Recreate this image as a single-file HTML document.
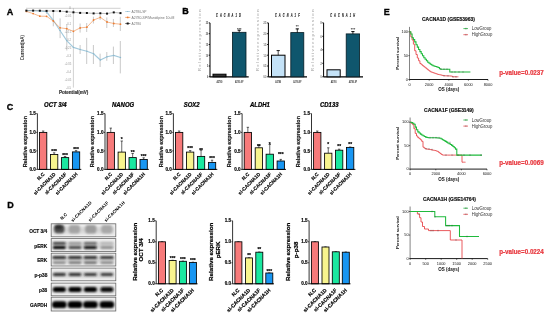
<!DOCTYPE html>
<html><head><meta charset="utf-8"><style>
html,body{margin:0;padding:0;background:#fff;width:550px;height:317px;overflow:hidden}
svg{display:block;will-change:transform}
text{font-family:"Liberation Sans", sans-serif}
</style></head><body>
<svg width="550" height="317" viewBox="0 0 550 317">
<rect width="550" height="317" fill="#fff"/>
<text x="0" y="0" transform="translate(6.85 15.15) scale(0.92 1)" font-size="9.8" text-anchor="start" font-weight="bold" font-style="normal" fill="#000" stroke="#000" stroke-width="0.35">A</text>
<text x="0" y="0" transform="translate(182.35 13.65) scale(0.92 1)" font-size="9.8" text-anchor="start" font-weight="bold" font-style="normal" fill="#000" stroke="#000" stroke-width="0.35">B</text>
<text x="0" y="0" transform="translate(6.75 109.6) scale(0.92 1)" font-size="9.8" text-anchor="start" font-weight="bold" font-style="normal" fill="#000" stroke="#000" stroke-width="0.35">C</text>
<text x="0" y="0" transform="translate(7.15 207.95) scale(0.92 1)" font-size="9.8" text-anchor="start" font-weight="bold" font-style="normal" fill="#000" stroke="#000" stroke-width="0.35">D</text>
<text x="0" y="0" transform="translate(383.85 14.95) scale(0.92 1)" font-size="9.8" text-anchor="start" font-weight="bold" font-style="normal" fill="#000" stroke="#000" stroke-width="0.35">E</text>
<line x1="26" y1="8.3" x2="120.5" y2="8.3" stroke="#888" stroke-width="0.4" />
<line x1="73.4" y1="8.2" x2="73.4" y2="87.6" stroke="#999" stroke-width="0.45" />
<text x="71.2" y="16.78" font-size="2.8" text-anchor="end" font-weight="normal" font-style="normal" fill="#999" >-0.05</text>
<text x="71.2" y="24.76" font-size="2.8" text-anchor="end" font-weight="normal" font-style="normal" fill="#999" >-0.1</text>
<text x="71.2" y="32.74" font-size="2.8" text-anchor="end" font-weight="normal" font-style="normal" fill="#999" >-0.15</text>
<text x="71.2" y="40.72" font-size="2.8" text-anchor="end" font-weight="normal" font-style="normal" fill="#999" >-0.2</text>
<text x="71.2" y="48.7" font-size="2.8" text-anchor="end" font-weight="normal" font-style="normal" fill="#999" >-0.25</text>
<text x="71.2" y="56.68" font-size="2.8" text-anchor="end" font-weight="normal" font-style="normal" fill="#999" >-0.3</text>
<text x="71.2" y="64.66" font-size="2.8" text-anchor="end" font-weight="normal" font-style="normal" fill="#999" >-0.35</text>
<text x="71.2" y="72.64" font-size="2.8" text-anchor="end" font-weight="normal" font-style="normal" fill="#999" >-0.4</text>
<text x="71.2" y="80.62" font-size="2.8" text-anchor="end" font-weight="normal" font-style="normal" fill="#999" >-0.45</text>
<text x="71.2" y="88.60000000000001" font-size="2.8" text-anchor="end" font-weight="normal" font-style="normal" fill="#999" >-0.5</text>
<text x="70.0" y="9.3" font-size="2.8" text-anchor="middle" font-weight="normal" font-style="normal" fill="#888" >0</text>
<line x1="53.3" y1="12" x2="53.3" y2="26.3" stroke="#9a9a9a" stroke-width="0.55" />
<line x1="60.1" y1="18.4" x2="60.1" y2="38.1" stroke="#9a9a9a" stroke-width="0.55" />
<line x1="66.8" y1="24.5" x2="66.8" y2="50.5" stroke="#9a9a9a" stroke-width="0.55" />
<line x1="80.1" y1="23.5" x2="80.1" y2="32.6" stroke="#9a9a9a" stroke-width="0.55" />
<line x1="80.1" y1="45" x2="80.1" y2="54" stroke="#9a9a9a" stroke-width="0.55" />
<line x1="86.7" y1="23" x2="86.7" y2="32" stroke="#9a9a9a" stroke-width="0.55" />
<line x1="86.7" y1="37.9" x2="86.7" y2="64" stroke="#9a9a9a" stroke-width="0.55" />
<line x1="93.4" y1="16.7" x2="93.4" y2="23.5" stroke="#9a9a9a" stroke-width="0.55" />
<line x1="93.4" y1="45" x2="93.4" y2="64" stroke="#9a9a9a" stroke-width="0.55" />
<line x1="100.1" y1="15" x2="100.1" y2="20" stroke="#9a9a9a" stroke-width="0.55" />
<line x1="100.1" y1="53.7" x2="100.1" y2="67" stroke="#9a9a9a" stroke-width="0.55" />
<line x1="106.8" y1="17.4" x2="106.8" y2="28" stroke="#9a9a9a" stroke-width="0.55" />
<line x1="106.8" y1="52" x2="106.8" y2="60.8" stroke="#9a9a9a" stroke-width="0.55" />
<line x1="113.4" y1="19" x2="113.4" y2="27" stroke="#9a9a9a" stroke-width="0.55" />
<line x1="113.4" y1="46.6" x2="113.4" y2="64" stroke="#9a9a9a" stroke-width="0.55" />
<line x1="120.3" y1="16.7" x2="120.3" y2="31" stroke="#9a9a9a" stroke-width="0.55" />
<line x1="120.3" y1="41" x2="120.3" y2="73.4" stroke="#9a9a9a" stroke-width="0.55" />
<line x1="46.7" y1="10" x2="46.7" y2="14" stroke="#9a9a9a" stroke-width="0.55" />
<polyline points="26.40,10.60 33.12,10.80 39.84,11.00 46.56,11.80 53.28,20.30 60.00,30.50 66.72,40.60 73.44,47.40 80.16,49.50 86.88,51.30 93.60,53.80 100.32,60.00 107.04,56.80 113.76,55.40 120.48,57.50" fill="none" stroke="#a3c9dc" stroke-width="1.15" />
<circle cx="26.4" cy="10.6" r="0.7" fill="#8bb8cc"/>
<circle cx="33.12" cy="10.8" r="0.7" fill="#8bb8cc"/>
<circle cx="39.839999999999996" cy="11.0" r="0.7" fill="#8bb8cc"/>
<circle cx="46.56" cy="11.8" r="0.7" fill="#8bb8cc"/>
<circle cx="53.28" cy="20.3" r="0.7" fill="#8bb8cc"/>
<circle cx="60.0" cy="30.5" r="0.7" fill="#8bb8cc"/>
<circle cx="66.72" cy="40.6" r="0.7" fill="#8bb8cc"/>
<circle cx="73.44" cy="47.4" r="0.7" fill="#8bb8cc"/>
<circle cx="80.16" cy="49.5" r="0.7" fill="#8bb8cc"/>
<circle cx="86.88" cy="51.3" r="0.7" fill="#8bb8cc"/>
<circle cx="93.6" cy="53.8" r="0.7" fill="#8bb8cc"/>
<circle cx="100.32" cy="60.0" r="0.7" fill="#8bb8cc"/>
<circle cx="107.03999999999999" cy="56.8" r="0.7" fill="#8bb8cc"/>
<circle cx="113.75999999999999" cy="55.4" r="0.7" fill="#8bb8cc"/>
<circle cx="120.47999999999999" cy="57.5" r="0.7" fill="#8bb8cc"/>
<polyline points="26.40,11.40 33.12,13.60 39.84,16.20 46.56,16.30 53.28,21.00 60.00,27.80 66.72,28.70 73.44,31.30 80.16,27.90 86.88,27.20 93.60,20.00 100.32,17.40 107.04,22.00 113.76,23.50 120.48,24.20" fill="none" stroke="#ef8a45" stroke-width="0.6" />
<circle cx="26.4" cy="11.4" r="0.9" fill="#ee7d31"/>
<circle cx="33.12" cy="13.6" r="0.9" fill="#ee7d31"/>
<circle cx="39.839999999999996" cy="16.2" r="0.9" fill="#ee7d31"/>
<circle cx="46.56" cy="16.3" r="0.9" fill="#ee7d31"/>
<circle cx="53.28" cy="21.0" r="0.9" fill="#ee7d31"/>
<circle cx="60.0" cy="27.8" r="0.9" fill="#ee7d31"/>
<circle cx="66.72" cy="28.7" r="0.9" fill="#ee7d31"/>
<circle cx="73.44" cy="31.3" r="0.9" fill="#ee7d31"/>
<circle cx="80.16" cy="27.9" r="0.9" fill="#ee7d31"/>
<circle cx="86.88" cy="27.2" r="0.9" fill="#ee7d31"/>
<circle cx="93.6" cy="20.0" r="0.9" fill="#ee7d31"/>
<circle cx="100.32" cy="17.4" r="0.9" fill="#ee7d31"/>
<circle cx="107.03999999999999" cy="22.0" r="0.9" fill="#ee7d31"/>
<circle cx="113.75999999999999" cy="23.5" r="0.9" fill="#ee7d31"/>
<circle cx="120.47999999999999" cy="24.2" r="0.9" fill="#ee7d31"/>
<polyline points="26.40,10.60 33.12,10.60 39.84,10.70 46.56,10.90 53.28,11.00 60.00,11.10 66.72,11.70 73.44,12.30 80.16,12.90 86.88,13.00 93.60,13.40 100.32,13.30 107.04,13.60 113.76,12.40 120.48,13.10" fill="none" stroke="#777" stroke-width="0.5" />
<rect x="25.4" y="9.6" width="2.0" height="2.0" fill="#111"/>
<rect x="32.12" y="9.6" width="2.0" height="2.0" fill="#111"/>
<rect x="38.839999999999996" y="9.7" width="2.0" height="2.0" fill="#111"/>
<rect x="45.56" y="9.9" width="2.0" height="2.0" fill="#111"/>
<rect x="52.28" y="10.0" width="2.0" height="2.0" fill="#111"/>
<rect x="59.0" y="10.1" width="2.0" height="2.0" fill="#111"/>
<rect x="65.72" y="10.7" width="2.0" height="2.0" fill="#111"/>
<rect x="72.44" y="11.3" width="2.0" height="2.0" fill="#111"/>
<rect x="79.16" y="11.9" width="2.0" height="2.0" fill="#111"/>
<rect x="85.88" y="12.0" width="2.0" height="2.0" fill="#111"/>
<rect x="92.6" y="12.4" width="2.0" height="2.0" fill="#111"/>
<rect x="99.32" y="12.3" width="2.0" height="2.0" fill="#111"/>
<rect x="106.03999999999999" y="12.6" width="2.0" height="2.0" fill="#111"/>
<rect x="112.75999999999999" y="11.4" width="2.0" height="2.0" fill="#111"/>
<rect x="119.47999999999999" y="12.1" width="2.0" height="2.0" fill="#111"/>
<line x1="125.2" y1="11.5" x2="130.3" y2="11.5" stroke="#9fc6d8" stroke-width="0.7" />
<circle cx="127.7" cy="11.5" r="0.6" fill="#8bb8cc"/>
<line x1="125.2" y1="17.4" x2="130.3" y2="17.4" stroke="#ef8a45" stroke-width="0.7" />
<circle cx="127.7" cy="17.4" r="0.9" fill="#ee7d31"/>
<line x1="125.2" y1="23.5" x2="130.3" y2="23.5" stroke="#222" stroke-width="0.6" />
<rect x="126.7" y="22.5" width="2" height="2" fill="#111"/>
<text x="131.5" y="12.7" font-size="3.3" text-anchor="start" font-weight="normal" font-style="normal" fill="#777" >A2780-SP</text>
<text x="131.5" y="18.6" font-size="3.45" text-anchor="start" font-weight="normal" font-style="normal" fill="#777" >A2780-SP/Manidipine 10uM</text>
<text x="131.5" y="24.7" font-size="3.3" text-anchor="start" font-weight="normal" font-style="normal" fill="#777" >A2780</text>
<text x="23.900000000000002" y="47.6" font-size="4.5" text-anchor="middle" font-weight="bold" font-style="normal" fill="#333" transform="rotate(-90 23.900000000000002 47.6)" >Current(nA)</text>
<text x="73.65" y="94.0" font-size="4.58" text-anchor="middle" font-weight="bold" font-style="normal" fill="#333"  stroke="#333" stroke-width="0.160">Potential(mV)</text>
<text x="0" y="0" transform="translate(200.8 40.2) rotate(-90) scale(1 1)" font-size="2.6" text-anchor="middle" font-weight="bold" font-style="normal" fill="#bbb" textLength="62" lengthAdjust="spacingAndGlyphs">R e l a t i v e   e x p r e s s i o n</text>
<line x1="210.0" y1="22.9" x2="210.0" y2="76.9" stroke="#000" stroke-width="1.0" />
<line x1="208.7" y1="22.9" x2="210.0" y2="22.9" stroke="#000" stroke-width="0.9" />
<text x="0" y="0" transform="translate(208.0 24.299999999999997) scale(0.5 1)" font-size="4.0" text-anchor="end" font-weight="bold" font-style="normal" fill="#444" >25</text>
<line x1="208.7" y1="33.7" x2="210.0" y2="33.7" stroke="#000" stroke-width="0.9" />
<text x="0" y="0" transform="translate(208.0 35.1) scale(0.5 1)" font-size="4.0" text-anchor="end" font-weight="bold" font-style="normal" fill="#444" >20</text>
<line x1="208.7" y1="44.5" x2="210.0" y2="44.5" stroke="#000" stroke-width="0.9" />
<text x="0" y="0" transform="translate(208.0 45.9) scale(0.5 1)" font-size="4.0" text-anchor="end" font-weight="bold" font-style="normal" fill="#444" >15</text>
<line x1="208.7" y1="55.2" x2="210.0" y2="55.2" stroke="#000" stroke-width="0.9" />
<text x="0" y="0" transform="translate(208.0 56.6) scale(0.5 1)" font-size="4.0" text-anchor="end" font-weight="bold" font-style="normal" fill="#444" >10</text>
<line x1="208.7" y1="66.0" x2="210.0" y2="66.0" stroke="#000" stroke-width="0.9" />
<text x="0" y="0" transform="translate(208.0 67.4) scale(0.5 1)" font-size="4.0" text-anchor="end" font-weight="bold" font-style="normal" fill="#444" >5</text>
<line x1="208.7" y1="76.8" x2="210.0" y2="76.8" stroke="#000" stroke-width="0.9" />
<text x="0" y="0" transform="translate(208.0 78.2) scale(0.5 1)" font-size="4.0" text-anchor="end" font-weight="bold" font-style="normal" fill="#444" >0</text>
<line x1="210.0" y1="76.8" x2="248.7" y2="76.8" stroke="#000" stroke-width="1.2" />
<text x="0" y="0" transform="translate(216.0 17.3) scale(0.42 1)" font-size="6.0" text-anchor="start" font-weight="bold" font-style="italic" fill="#222" textLength="59" lengthAdjust="spacing" stroke="#222" stroke-width="0.210">CACNA1D</text>
<rect x="213.0" y="74.2" width="13.0" height="2.5999999999999943" fill="#333" stroke="#000" stroke-width="1.0" />
<rect x="232.4" y="32.3" width="13.599999999999994" height="44.5" fill="#0f566d" stroke="#061c24" stroke-width="0.8" />
<line x1="239.2" y1="32.3" x2="239.2" y2="30.2" stroke="#000" stroke-width="0.8" />
<line x1="237.6" y1="30.2" x2="240.79999999999998" y2="30.2" stroke="#000" stroke-width="1.0" />
<text x="239.2" y="30.6" font-size="3.8" text-anchor="middle" font-weight="bold" font-style="normal" fill="#333" >***</text>
<text x="0" y="0" transform="translate(219.5 82.6) scale(0.55 1)" font-size="3.6" text-anchor="middle" font-weight="bold" font-style="normal" fill="#333" >A2780</text>
<text x="0" y="0" transform="translate(239.2 82.6) scale(0.5 1)" font-size="3.6" text-anchor="middle" font-weight="bold" font-style="normal" fill="#333" >A2780-SP</text>
<text x="0" y="0" transform="translate(259.2 40.2) rotate(-90) scale(1 1)" font-size="2.6" text-anchor="middle" font-weight="bold" font-style="normal" fill="#bbb" textLength="62" lengthAdjust="spacingAndGlyphs">R e l a t i v e   e x p r e s s i o n</text>
<line x1="268.4" y1="22.9" x2="268.4" y2="76.9" stroke="#000" stroke-width="1.0" />
<line x1="267.09999999999997" y1="22.9" x2="268.4" y2="22.9" stroke="#000" stroke-width="0.9" />
<text x="0" y="0" transform="translate(266.4 24.299999999999997) scale(0.5 1)" font-size="4.0" text-anchor="end" font-weight="bold" font-style="normal" fill="#444" >2.5</text>
<line x1="267.09999999999997" y1="33.7" x2="268.4" y2="33.7" stroke="#000" stroke-width="0.9" />
<text x="0" y="0" transform="translate(266.4 35.1) scale(0.5 1)" font-size="4.0" text-anchor="end" font-weight="bold" font-style="normal" fill="#444" >2.0</text>
<line x1="267.09999999999997" y1="44.5" x2="268.4" y2="44.5" stroke="#000" stroke-width="0.9" />
<text x="0" y="0" transform="translate(266.4 45.9) scale(0.5 1)" font-size="4.0" text-anchor="end" font-weight="bold" font-style="normal" fill="#444" >1.5</text>
<line x1="267.09999999999997" y1="55.2" x2="268.4" y2="55.2" stroke="#000" stroke-width="0.9" />
<text x="0" y="0" transform="translate(266.4 56.6) scale(0.5 1)" font-size="4.0" text-anchor="end" font-weight="bold" font-style="normal" fill="#444" >1.0</text>
<line x1="267.09999999999997" y1="66.0" x2="268.4" y2="66.0" stroke="#000" stroke-width="0.9" />
<text x="0" y="0" transform="translate(266.4 67.4) scale(0.5 1)" font-size="4.0" text-anchor="end" font-weight="bold" font-style="normal" fill="#444" >0.5</text>
<line x1="267.09999999999997" y1="76.8" x2="268.4" y2="76.8" stroke="#000" stroke-width="0.9" />
<text x="0" y="0" transform="translate(266.4 78.2) scale(0.5 1)" font-size="4.0" text-anchor="end" font-weight="bold" font-style="normal" fill="#444" >0.0</text>
<line x1="268.4" y1="76.8" x2="307.0" y2="76.8" stroke="#000" stroke-width="1.2" />
<text x="0" y="0" transform="translate(274.9 17.3) scale(0.42 1)" font-size="6.0" text-anchor="start" font-weight="bold" font-style="italic" fill="#222" textLength="59" lengthAdjust="spacing" stroke="#222" stroke-width="0.210">CACNA1F</text>
<rect x="271.5" y="55.2" width="13.5" height="21.599999999999994" fill="#c4e2f7" stroke="#000" stroke-width="1.0" />
<rect x="290.8" y="32.6" width="13.0" height="44.199999999999996" fill="#0f566d" stroke="#061c24" stroke-width="0.8" />
<line x1="297.3" y1="32.6" x2="297.3" y2="28.9" stroke="#000" stroke-width="0.8" />
<line x1="295.7" y1="28.9" x2="298.90000000000003" y2="28.9" stroke="#000" stroke-width="1.0" />
<text x="297.3" y="27.8" font-size="3.8" text-anchor="middle" font-weight="bold" font-style="normal" fill="#333" >**</text>
<text x="0" y="0" transform="translate(278.25 82.6) scale(0.55 1)" font-size="3.6" text-anchor="middle" font-weight="bold" font-style="normal" fill="#333" >A2780</text>
<text x="0" y="0" transform="translate(297.3 82.6) scale(0.5 1)" font-size="3.6" text-anchor="middle" font-weight="bold" font-style="normal" fill="#333" >A2780-SP</text>
<text x="0" y="0" transform="translate(314.40000000000003 40.2) rotate(-90) scale(1 1)" font-size="2.6" text-anchor="middle" font-weight="bold" font-style="normal" fill="#bbb" textLength="62" lengthAdjust="spacingAndGlyphs">R e l a t i v e   e x p r e s s i o n</text>
<line x1="323.6" y1="22.9" x2="323.6" y2="76.9" stroke="#000" stroke-width="1.0" />
<line x1="322.3" y1="22.8" x2="323.6" y2="22.8" stroke="#000" stroke-width="0.9" />
<text x="0" y="0" transform="translate(321.6 24.2) scale(0.5 1)" font-size="4.0" text-anchor="end" font-weight="bold" font-style="normal" fill="#444" >8</text>
<line x1="322.3" y1="36.3" x2="323.6" y2="36.3" stroke="#000" stroke-width="0.9" />
<text x="0" y="0" transform="translate(321.6 37.699999999999996) scale(0.5 1)" font-size="4.0" text-anchor="end" font-weight="bold" font-style="normal" fill="#444" >6</text>
<line x1="322.3" y1="49.8" x2="323.6" y2="49.8" stroke="#000" stroke-width="0.9" />
<text x="0" y="0" transform="translate(321.6 51.199999999999996) scale(0.5 1)" font-size="4.0" text-anchor="end" font-weight="bold" font-style="normal" fill="#444" >4</text>
<line x1="322.3" y1="63.3" x2="323.6" y2="63.3" stroke="#000" stroke-width="0.9" />
<text x="0" y="0" transform="translate(321.6 64.7) scale(0.5 1)" font-size="4.0" text-anchor="end" font-weight="bold" font-style="normal" fill="#444" >2</text>
<line x1="322.3" y1="76.8" x2="323.6" y2="76.8" stroke="#000" stroke-width="0.9" />
<text x="0" y="0" transform="translate(321.6 78.2) scale(0.5 1)" font-size="4.0" text-anchor="end" font-weight="bold" font-style="normal" fill="#444" >0</text>
<line x1="323.6" y1="76.8" x2="363.0" y2="76.8" stroke="#000" stroke-width="1.2" />
<text x="0" y="0" transform="translate(330.2 17.3) scale(0.42 1)" font-size="6.0" text-anchor="start" font-weight="bold" font-style="italic" fill="#222" textLength="59" lengthAdjust="spacing" stroke="#222" stroke-width="0.210">CACNA1H</text>
<rect x="327.0" y="69.8" width="13.199999999999989" height="7.0" fill="#c4e2f7" stroke="#000" stroke-width="1.0" />
<rect x="346.2" y="33.9" width="13.400000000000034" height="42.9" fill="#0f566d" stroke="#061c24" stroke-width="0.8" />
<line x1="352.9" y1="33.9" x2="352.9" y2="31.6" stroke="#000" stroke-width="0.8" />
<line x1="351.29999999999995" y1="31.6" x2="354.5" y2="31.6" stroke="#000" stroke-width="1.0" />
<text x="352.9" y="31.4" font-size="3.8" text-anchor="middle" font-weight="bold" font-style="normal" fill="#333" >***</text>
<text x="0" y="0" transform="translate(333.6 82.6) scale(0.55 1)" font-size="3.6" text-anchor="middle" font-weight="bold" font-style="normal" fill="#333" >A2780</text>
<text x="0" y="0" transform="translate(352.9 82.6) scale(0.5 1)" font-size="3.6" text-anchor="middle" font-weight="bold" font-style="normal" fill="#333" >A2780-SP</text>
<line x1="278.2" y1="55.2" x2="278.2" y2="50.6" stroke="#000" stroke-width="0.7" />
<line x1="276.6" y1="50.6" x2="279.8" y2="50.6" stroke="#000" stroke-width="0.9" />
<line x1="37.4" y1="113.6" x2="37.4" y2="169.4" stroke="#000" stroke-width="0.8" />
<line x1="36.199999999999996" y1="113.6" x2="37.4" y2="113.6" stroke="#000" stroke-width="0.7" />
<text x="35.9" y="115.25" font-size="4.6" text-anchor="end" font-weight="bold" font-style="normal" fill="#000"  stroke="#000" stroke-width="0.161">1.5</text>
<line x1="36.199999999999996" y1="132.4" x2="37.4" y2="132.4" stroke="#000" stroke-width="0.7" />
<text x="35.9" y="134.05" font-size="4.6" text-anchor="end" font-weight="bold" font-style="normal" fill="#000"  stroke="#000" stroke-width="0.161">1.0</text>
<line x1="36.199999999999996" y1="150.9" x2="37.4" y2="150.9" stroke="#000" stroke-width="0.7" />
<text x="35.9" y="152.55" font-size="4.6" text-anchor="end" font-weight="bold" font-style="normal" fill="#000"  stroke="#000" stroke-width="0.161">0.5</text>
<line x1="36.199999999999996" y1="169.4" x2="37.4" y2="169.4" stroke="#000" stroke-width="0.7" />
<text x="35.9" y="171.05" font-size="4.6" text-anchor="end" font-weight="bold" font-style="normal" fill="#000"  stroke="#000" stroke-width="0.161">0.0</text>
<line x1="43.15" y1="132.4" x2="43.15" y2="131.0" stroke="#000" stroke-width="0.6" />
<line x1="41.949999999999996" y1="131.0" x2="44.35" y2="131.0" stroke="#000" stroke-width="0.6" />
<rect x="39.5" y="132.4" width="7.3" height="37.0" fill="#f77a7a" stroke="#000" stroke-width="0.85" />
<line x1="54.15" y1="154.5" x2="54.15" y2="152.8" stroke="#000" stroke-width="0.6" />
<line x1="52.949999999999996" y1="152.8" x2="55.35" y2="152.8" stroke="#000" stroke-width="0.6" />
<rect x="50.5" y="154.5" width="7.3" height="14.900000000000006" fill="#f8f48e" stroke="#000" stroke-width="0.85" />
<text x="54.15" y="153.2" font-size="4.8" text-anchor="middle" font-weight="bold" font-style="normal" fill="#000"  stroke="#000" stroke-width="0.168">***</text>
<line x1="65.05" y1="157.6" x2="65.05" y2="156.5" stroke="#000" stroke-width="0.6" />
<line x1="63.849999999999994" y1="156.5" x2="66.25" y2="156.5" stroke="#000" stroke-width="0.6" />
<rect x="61.4" y="157.6" width="7.3" height="11.800000000000011" fill="#1ae8a0" stroke="#000" stroke-width="0.85" />
<text x="65.05" y="156.7" font-size="4.8" text-anchor="middle" font-weight="bold" font-style="normal" fill="#000"  stroke="#000" stroke-width="0.168">***</text>
<line x1="76.05000000000001" y1="151.9" x2="76.05000000000001" y2="150.6" stroke="#000" stroke-width="0.6" />
<line x1="74.85000000000001" y1="150.6" x2="77.25000000000001" y2="150.6" stroke="#000" stroke-width="0.6" />
<rect x="72.4" y="151.9" width="7.3" height="17.5" fill="#1896f2" stroke="#000" stroke-width="0.85" />
<text x="76.05000000000001" y="150.89999999999998" font-size="4.8" text-anchor="middle" font-weight="bold" font-style="normal" fill="#000"  stroke="#000" stroke-width="0.168">***</text>
<line x1="37.4" y1="169.4" x2="81.3" y2="169.4" stroke="#000" stroke-width="0.9" />
<text x="0" y="0" transform="translate(44.0 107.2) scale(0.92 1)" font-size="6.5" text-anchor="start" font-weight="bold" font-style="italic" fill="#000"  stroke="#000" stroke-width="0.228">OCT 3/4</text>
<text x="27.2" y="141.6" font-size="5.6" text-anchor="middle" font-weight="bold" font-style="normal" fill="#222" transform="rotate(-90 27.2 141.6)" textLength="51.2" lengthAdjust="spacingAndGlyphs" stroke="#222" stroke-width="0.196">Relative expression</text>
<text x="44.949999999999996" y="174.6" font-size="4.8" text-anchor="end" font-weight="bold" font-style="normal" fill="#000" transform="rotate(-45 44.949999999999996 174.6)"  stroke="#000" stroke-width="0.168">N.C</text>
<text x="55.949999999999996" y="174.6" font-size="4.8" text-anchor="end" font-weight="bold" font-style="normal" fill="#000" transform="rotate(-45 55.949999999999996 174.6)"  stroke="#000" stroke-width="0.168">si-CACNA1D</text>
<text x="66.85" y="174.6" font-size="4.8" text-anchor="end" font-weight="bold" font-style="normal" fill="#000" transform="rotate(-45 66.85 174.6)"  stroke="#000" stroke-width="0.168">si-CACNA1F</text>
<text x="77.85000000000001" y="174.6" font-size="4.8" text-anchor="end" font-weight="bold" font-style="normal" fill="#000" transform="rotate(-45 77.85000000000001 174.6)"  stroke="#000" stroke-width="0.168">si-CACNA1H</text>
<line x1="105.0" y1="113.6" x2="105.0" y2="169.4" stroke="#000" stroke-width="0.8" />
<line x1="103.8" y1="113.6" x2="105.0" y2="113.6" stroke="#000" stroke-width="0.7" />
<text x="103.5" y="115.25" font-size="4.6" text-anchor="end" font-weight="bold" font-style="normal" fill="#000"  stroke="#000" stroke-width="0.161">1.5</text>
<line x1="103.8" y1="132.4" x2="105.0" y2="132.4" stroke="#000" stroke-width="0.7" />
<text x="103.5" y="134.05" font-size="4.6" text-anchor="end" font-weight="bold" font-style="normal" fill="#000"  stroke="#000" stroke-width="0.161">1.0</text>
<line x1="103.8" y1="150.9" x2="105.0" y2="150.9" stroke="#000" stroke-width="0.7" />
<text x="103.5" y="152.55" font-size="4.6" text-anchor="end" font-weight="bold" font-style="normal" fill="#000"  stroke="#000" stroke-width="0.161">0.5</text>
<line x1="103.8" y1="169.4" x2="105.0" y2="169.4" stroke="#000" stroke-width="0.7" />
<text x="103.5" y="171.05" font-size="4.6" text-anchor="end" font-weight="bold" font-style="normal" fill="#000"  stroke="#000" stroke-width="0.161">0.0</text>
<line x1="110.75" y1="132.4" x2="110.75" y2="128.1" stroke="#000" stroke-width="0.6" />
<line x1="109.55" y1="128.1" x2="111.95" y2="128.1" stroke="#000" stroke-width="0.6" />
<rect x="107.1" y="132.4" width="7.3" height="37.0" fill="#f77a7a" stroke="#000" stroke-width="0.85" />
<line x1="121.75" y1="152.1" x2="121.75" y2="141.0" stroke="#000" stroke-width="0.6" />
<line x1="120.55" y1="141.0" x2="122.95" y2="141.0" stroke="#000" stroke-width="0.6" />
<rect x="118.1" y="152.1" width="7.3" height="17.30000000000001" fill="#f8f48e" stroke="#000" stroke-width="0.85" />
<text x="121.75" y="141.0" font-size="4.8" text-anchor="middle" font-weight="bold" font-style="normal" fill="#000"  stroke="#000" stroke-width="0.168">*</text>
<line x1="132.65" y1="157.6" x2="132.65" y2="153.5" stroke="#000" stroke-width="0.6" />
<line x1="131.45000000000002" y1="153.5" x2="133.85" y2="153.5" stroke="#000" stroke-width="0.6" />
<rect x="129.0" y="157.6" width="7.3" height="11.800000000000011" fill="#1ae8a0" stroke="#000" stroke-width="0.85" />
<text x="132.65" y="154.1" font-size="4.8" text-anchor="middle" font-weight="bold" font-style="normal" fill="#000"  stroke="#000" stroke-width="0.168">**</text>
<line x1="143.65" y1="159.5" x2="143.65" y2="157.8" stroke="#000" stroke-width="0.6" />
<line x1="142.45000000000002" y1="157.8" x2="144.85" y2="157.8" stroke="#000" stroke-width="0.6" />
<rect x="140.0" y="159.5" width="7.3" height="9.900000000000006" fill="#1896f2" stroke="#000" stroke-width="0.85" />
<text x="143.65" y="157.89999999999998" font-size="4.8" text-anchor="middle" font-weight="bold" font-style="normal" fill="#000"  stroke="#000" stroke-width="0.168">***</text>
<line x1="105.0" y1="169.4" x2="148.9" y2="169.4" stroke="#000" stroke-width="0.9" />
<text x="0" y="0" transform="translate(112.0 107.2) scale(0.92 1)" font-size="6.5" text-anchor="start" font-weight="bold" font-style="italic" fill="#000"  stroke="#000" stroke-width="0.228">NANOG</text>
<text x="94.3" y="141.6" font-size="5.6" text-anchor="middle" font-weight="bold" font-style="normal" fill="#222" transform="rotate(-90 94.3 141.6)" textLength="51.2" lengthAdjust="spacingAndGlyphs" stroke="#222" stroke-width="0.196">Relative expression</text>
<text x="112.55" y="174.6" font-size="4.8" text-anchor="end" font-weight="bold" font-style="normal" fill="#000" transform="rotate(-45 112.55 174.6)"  stroke="#000" stroke-width="0.168">N.C</text>
<text x="123.55" y="174.6" font-size="4.8" text-anchor="end" font-weight="bold" font-style="normal" fill="#000" transform="rotate(-45 123.55 174.6)"  stroke="#000" stroke-width="0.168">si-CACNA1D</text>
<text x="134.45000000000002" y="174.6" font-size="4.8" text-anchor="end" font-weight="bold" font-style="normal" fill="#000" transform="rotate(-45 134.45000000000002 174.6)"  stroke="#000" stroke-width="0.168">si-CACNA1F</text>
<text x="145.45000000000002" y="174.6" font-size="4.8" text-anchor="end" font-weight="bold" font-style="normal" fill="#000" transform="rotate(-45 145.45000000000002 174.6)"  stroke="#000" stroke-width="0.168">si-CACNA1H</text>
<line x1="173.4" y1="113.6" x2="173.4" y2="169.4" stroke="#000" stroke-width="0.8" />
<line x1="172.20000000000002" y1="113.6" x2="173.4" y2="113.6" stroke="#000" stroke-width="0.7" />
<text x="171.9" y="115.25" font-size="4.6" text-anchor="end" font-weight="bold" font-style="normal" fill="#000"  stroke="#000" stroke-width="0.161">1.5</text>
<line x1="172.20000000000002" y1="132.4" x2="173.4" y2="132.4" stroke="#000" stroke-width="0.7" />
<text x="171.9" y="134.05" font-size="4.6" text-anchor="end" font-weight="bold" font-style="normal" fill="#000"  stroke="#000" stroke-width="0.161">1.0</text>
<line x1="172.20000000000002" y1="150.9" x2="173.4" y2="150.9" stroke="#000" stroke-width="0.7" />
<text x="171.9" y="152.55" font-size="4.6" text-anchor="end" font-weight="bold" font-style="normal" fill="#000"  stroke="#000" stroke-width="0.161">0.5</text>
<line x1="172.20000000000002" y1="169.4" x2="173.4" y2="169.4" stroke="#000" stroke-width="0.7" />
<text x="171.9" y="171.05" font-size="4.6" text-anchor="end" font-weight="bold" font-style="normal" fill="#000"  stroke="#000" stroke-width="0.161">0.0</text>
<line x1="179.15" y1="132.4" x2="179.15" y2="131.0" stroke="#000" stroke-width="0.6" />
<line x1="177.95000000000002" y1="131.0" x2="180.35" y2="131.0" stroke="#000" stroke-width="0.6" />
<rect x="175.5" y="132.4" width="7.3" height="37.0" fill="#f77a7a" stroke="#000" stroke-width="0.85" />
<line x1="190.15" y1="152.1" x2="190.15" y2="150.6" stroke="#000" stroke-width="0.6" />
<line x1="188.95000000000002" y1="150.6" x2="191.35" y2="150.6" stroke="#000" stroke-width="0.6" />
<rect x="186.5" y="152.1" width="7.3" height="17.30000000000001" fill="#f8f48e" stroke="#000" stroke-width="0.85" />
<text x="190.15" y="150.1" font-size="4.8" text-anchor="middle" font-weight="bold" font-style="normal" fill="#000"  stroke="#000" stroke-width="0.168">***</text>
<line x1="201.05" y1="156.4" x2="201.05" y2="150.2" stroke="#000" stroke-width="0.6" />
<line x1="199.85000000000002" y1="150.2" x2="202.25" y2="150.2" stroke="#000" stroke-width="0.6" />
<rect x="197.4" y="156.4" width="7.3" height="13.0" fill="#1ae8a0" stroke="#000" stroke-width="0.85" />
<text x="201.05" y="151.5" font-size="4.8" text-anchor="middle" font-weight="bold" font-style="normal" fill="#000"  stroke="#000" stroke-width="0.168">**</text>
<line x1="212.05" y1="162.4" x2="212.05" y2="160.2" stroke="#000" stroke-width="0.6" />
<line x1="210.85000000000002" y1="160.2" x2="213.25" y2="160.2" stroke="#000" stroke-width="0.6" />
<rect x="208.4" y="162.4" width="7.3" height="7.0" fill="#1896f2" stroke="#000" stroke-width="0.85" />
<text x="212.05" y="159.7" font-size="4.8" text-anchor="middle" font-weight="bold" font-style="normal" fill="#000"  stroke="#000" stroke-width="0.168">***</text>
<line x1="173.4" y1="169.4" x2="217.3" y2="169.4" stroke="#000" stroke-width="0.9" />
<text x="0" y="0" transform="translate(183.7 107.2) scale(0.92 1)" font-size="6.5" text-anchor="start" font-weight="bold" font-style="italic" fill="#000"  stroke="#000" stroke-width="0.228">SOX2</text>
<text x="162.8" y="141.6" font-size="5.6" text-anchor="middle" font-weight="bold" font-style="normal" fill="#222" transform="rotate(-90 162.8 141.6)" textLength="51.2" lengthAdjust="spacingAndGlyphs" stroke="#222" stroke-width="0.196">Relative expression</text>
<text x="180.95000000000002" y="174.6" font-size="4.8" text-anchor="end" font-weight="bold" font-style="normal" fill="#000" transform="rotate(-45 180.95000000000002 174.6)"  stroke="#000" stroke-width="0.168">N.C</text>
<text x="191.95000000000002" y="174.6" font-size="4.8" text-anchor="end" font-weight="bold" font-style="normal" fill="#000" transform="rotate(-45 191.95000000000002 174.6)"  stroke="#000" stroke-width="0.168">si-CACNA1D</text>
<text x="202.85000000000002" y="174.6" font-size="4.8" text-anchor="end" font-weight="bold" font-style="normal" fill="#000" transform="rotate(-45 202.85000000000002 174.6)"  stroke="#000" stroke-width="0.168">si-CACNA1F</text>
<text x="213.85000000000002" y="174.6" font-size="4.8" text-anchor="end" font-weight="bold" font-style="normal" fill="#000" transform="rotate(-45 213.85000000000002 174.6)"  stroke="#000" stroke-width="0.168">si-CACNA1H</text>
<line x1="242.1" y1="113.6" x2="242.1" y2="169.4" stroke="#000" stroke-width="0.8" />
<line x1="240.9" y1="113.6" x2="242.1" y2="113.6" stroke="#000" stroke-width="0.7" />
<text x="240.6" y="115.25" font-size="4.6" text-anchor="end" font-weight="bold" font-style="normal" fill="#000"  stroke="#000" stroke-width="0.161">1.5</text>
<line x1="240.9" y1="132.4" x2="242.1" y2="132.4" stroke="#000" stroke-width="0.7" />
<text x="240.6" y="134.05" font-size="4.6" text-anchor="end" font-weight="bold" font-style="normal" fill="#000"  stroke="#000" stroke-width="0.161">1.0</text>
<line x1="240.9" y1="150.9" x2="242.1" y2="150.9" stroke="#000" stroke-width="0.7" />
<text x="240.6" y="152.55" font-size="4.6" text-anchor="end" font-weight="bold" font-style="normal" fill="#000"  stroke="#000" stroke-width="0.161">0.5</text>
<line x1="240.9" y1="169.4" x2="242.1" y2="169.4" stroke="#000" stroke-width="0.7" />
<text x="240.6" y="171.05" font-size="4.6" text-anchor="end" font-weight="bold" font-style="normal" fill="#000"  stroke="#000" stroke-width="0.161">0.0</text>
<line x1="247.85" y1="132.4" x2="247.85" y2="127.3" stroke="#000" stroke-width="0.6" />
<line x1="246.65" y1="127.3" x2="249.04999999999998" y2="127.3" stroke="#000" stroke-width="0.6" />
<rect x="244.2" y="132.4" width="7.3" height="37.0" fill="#f77a7a" stroke="#000" stroke-width="0.85" />
<line x1="258.84999999999997" y1="147.8" x2="258.84999999999997" y2="145.2" stroke="#000" stroke-width="0.6" />
<line x1="257.65" y1="145.2" x2="260.04999999999995" y2="145.2" stroke="#000" stroke-width="0.6" />
<rect x="255.2" y="147.8" width="7.3" height="21.599999999999994" fill="#f8f48e" stroke="#000" stroke-width="0.85" />
<text x="258.84999999999997" y="148.0" font-size="4.8" text-anchor="middle" font-weight="bold" font-style="normal" fill="#000"  stroke="#000" stroke-width="0.168">**</text>
<line x1="269.75" y1="154.2" x2="269.75" y2="144.5" stroke="#000" stroke-width="0.6" />
<line x1="268.55" y1="144.5" x2="270.95" y2="144.5" stroke="#000" stroke-width="0.6" />
<rect x="266.1" y="154.2" width="7.3" height="15.200000000000017" fill="#1ae8a0" stroke="#000" stroke-width="0.85" />
<text x="269.75" y="145.7" font-size="4.8" text-anchor="middle" font-weight="bold" font-style="normal" fill="#000"  stroke="#000" stroke-width="0.168">*</text>
<line x1="280.75" y1="161.0" x2="280.75" y2="159.4" stroke="#000" stroke-width="0.6" />
<line x1="279.55" y1="159.4" x2="281.95" y2="159.4" stroke="#000" stroke-width="0.6" />
<rect x="277.1" y="161.0" width="7.3" height="8.400000000000006" fill="#1896f2" stroke="#000" stroke-width="0.85" />
<text x="280.75" y="156.29999999999998" font-size="4.8" text-anchor="middle" font-weight="bold" font-style="normal" fill="#000"  stroke="#000" stroke-width="0.168">***</text>
<line x1="242.1" y1="169.4" x2="286.00000000000006" y2="169.4" stroke="#000" stroke-width="0.9" />
<text x="0" y="0" transform="translate(250.0 107.2) scale(0.92 1)" font-size="6.5" text-anchor="start" font-weight="bold" font-style="italic" fill="#000"  stroke="#000" stroke-width="0.228">ALDH1</text>
<text x="231.2" y="141.6" font-size="5.6" text-anchor="middle" font-weight="bold" font-style="normal" fill="#222" transform="rotate(-90 231.2 141.6)" textLength="51.2" lengthAdjust="spacingAndGlyphs" stroke="#222" stroke-width="0.196">Relative expression</text>
<text x="249.65" y="174.6" font-size="4.8" text-anchor="end" font-weight="bold" font-style="normal" fill="#000" transform="rotate(-45 249.65 174.6)"  stroke="#000" stroke-width="0.168">N.C</text>
<text x="260.65" y="174.6" font-size="4.8" text-anchor="end" font-weight="bold" font-style="normal" fill="#000" transform="rotate(-45 260.65 174.6)"  stroke="#000" stroke-width="0.168">si-CACNA1D</text>
<text x="271.55" y="174.6" font-size="4.8" text-anchor="end" font-weight="bold" font-style="normal" fill="#000" transform="rotate(-45 271.55 174.6)"  stroke="#000" stroke-width="0.168">si-CACNA1F</text>
<text x="282.55" y="174.6" font-size="4.8" text-anchor="end" font-weight="bold" font-style="normal" fill="#000" transform="rotate(-45 282.55 174.6)"  stroke="#000" stroke-width="0.168">si-CACNA1H</text>
<line x1="311.5" y1="113.6" x2="311.5" y2="169.4" stroke="#000" stroke-width="0.8" />
<line x1="310.3" y1="113.6" x2="311.5" y2="113.6" stroke="#000" stroke-width="0.7" />
<text x="310.0" y="115.25" font-size="4.6" text-anchor="end" font-weight="bold" font-style="normal" fill="#000"  stroke="#000" stroke-width="0.161">1.5</text>
<line x1="310.3" y1="132.4" x2="311.5" y2="132.4" stroke="#000" stroke-width="0.7" />
<text x="310.0" y="134.05" font-size="4.6" text-anchor="end" font-weight="bold" font-style="normal" fill="#000"  stroke="#000" stroke-width="0.161">1.0</text>
<line x1="310.3" y1="150.9" x2="311.5" y2="150.9" stroke="#000" stroke-width="0.7" />
<text x="310.0" y="152.55" font-size="4.6" text-anchor="end" font-weight="bold" font-style="normal" fill="#000"  stroke="#000" stroke-width="0.161">0.5</text>
<line x1="310.3" y1="169.4" x2="311.5" y2="169.4" stroke="#000" stroke-width="0.7" />
<text x="310.0" y="171.05" font-size="4.6" text-anchor="end" font-weight="bold" font-style="normal" fill="#000"  stroke="#000" stroke-width="0.161">0.0</text>
<line x1="317.25" y1="132.4" x2="317.25" y2="131.0" stroke="#000" stroke-width="0.6" />
<line x1="316.05" y1="131.0" x2="318.45" y2="131.0" stroke="#000" stroke-width="0.6" />
<rect x="313.6" y="132.4" width="7.3" height="37.0" fill="#f77a7a" stroke="#000" stroke-width="0.85" />
<line x1="328.25" y1="153.2" x2="328.25" y2="147.8" stroke="#000" stroke-width="0.6" />
<line x1="327.05" y1="147.8" x2="329.45" y2="147.8" stroke="#000" stroke-width="0.6" />
<rect x="324.6" y="153.2" width="7.3" height="16.200000000000017" fill="#f8f48e" stroke="#000" stroke-width="0.85" />
<text x="328.25" y="145.7" font-size="4.8" text-anchor="middle" font-weight="bold" font-style="normal" fill="#000"  stroke="#000" stroke-width="0.168">*</text>
<line x1="339.15" y1="150.2" x2="339.15" y2="149.2" stroke="#000" stroke-width="0.6" />
<line x1="337.95" y1="149.2" x2="340.34999999999997" y2="149.2" stroke="#000" stroke-width="0.6" />
<rect x="335.5" y="150.2" width="7.3" height="19.200000000000017" fill="#1ae8a0" stroke="#000" stroke-width="0.85" />
<text x="339.15" y="148.0" font-size="4.8" text-anchor="middle" font-weight="bold" font-style="normal" fill="#000"  stroke="#000" stroke-width="0.168">**</text>
<line x1="350.15" y1="147.4" x2="350.15" y2="147.0" stroke="#000" stroke-width="0.6" />
<line x1="348.95" y1="147.0" x2="351.34999999999997" y2="147.0" stroke="#000" stroke-width="0.6" />
<rect x="346.5" y="147.4" width="7.3" height="22.0" fill="#1896f2" stroke="#000" stroke-width="0.85" />
<text x="350.15" y="145.7" font-size="4.8" text-anchor="middle" font-weight="bold" font-style="normal" fill="#000"  stroke="#000" stroke-width="0.168">**</text>
<line x1="311.5" y1="169.4" x2="355.40000000000003" y2="169.4" stroke="#000" stroke-width="0.9" />
<text x="0" y="0" transform="translate(320.0 107.2) scale(0.92 1)" font-size="6.5" text-anchor="start" font-weight="bold" font-style="italic" fill="#000"  stroke="#000" stroke-width="0.228">CD133</text>
<text x="300.4" y="141.6" font-size="5.6" text-anchor="middle" font-weight="bold" font-style="normal" fill="#222" transform="rotate(-90 300.4 141.6)" textLength="51.2" lengthAdjust="spacingAndGlyphs" stroke="#222" stroke-width="0.196">Relative expression</text>
<text x="319.05" y="174.6" font-size="4.8" text-anchor="end" font-weight="bold" font-style="normal" fill="#000" transform="rotate(-45 319.05 174.6)"  stroke="#000" stroke-width="0.168">N.C</text>
<text x="330.05" y="174.6" font-size="4.8" text-anchor="end" font-weight="bold" font-style="normal" fill="#000" transform="rotate(-45 330.05 174.6)"  stroke="#000" stroke-width="0.168">si-CACNA1D</text>
<text x="340.95" y="174.6" font-size="4.8" text-anchor="end" font-weight="bold" font-style="normal" fill="#000" transform="rotate(-45 340.95 174.6)"  stroke="#000" stroke-width="0.168">si-CACNA1F</text>
<text x="351.95" y="174.6" font-size="4.8" text-anchor="end" font-weight="bold" font-style="normal" fill="#000" transform="rotate(-45 351.95 174.6)"  stroke="#000" stroke-width="0.168">si-CACNA1H</text>
<defs><filter id="bl" x="-50%" y="-100%" width="200%" height="300%"><feGaussianBlur stdDeviation="0.85"/></filter><filter id="bl2" x="-50%" y="-50%" width="200%" height="200%"><feGaussianBlur stdDeviation="1.3"/></filter><filter id="bl3" x="-50%" y="-100%" width="200%" height="300%"><feGaussianBlur stdDeviation="1.6"/></filter></defs>
<rect x="51.2" y="223.8" width="64.6" height="13.0" fill="#f0f0f0" stroke="#666" stroke-width="0.8" />
<text x="47.3" y="232.8" font-size="4.8" text-anchor="end" font-weight="bold" font-style="normal" fill="#111"  stroke="#111" stroke-width="0.168">OCT 3/4</text>
<rect x="51.2" y="238.6" width="64.6" height="13.0" fill="#f0f0f0" stroke="#666" stroke-width="0.8" />
<text x="47.3" y="247.6" font-size="4.8" text-anchor="end" font-weight="bold" font-style="normal" fill="#111"  stroke="#111" stroke-width="0.168">pERK</text>
<rect x="51.2" y="253.2" width="64.6" height="12.800000000000011" fill="#f0f0f0" stroke="#666" stroke-width="0.8" />
<text x="47.3" y="262.1" font-size="4.8" text-anchor="end" font-weight="bold" font-style="normal" fill="#111"  stroke="#111" stroke-width="0.168">ERK</text>
<rect x="51.2" y="268.1" width="64.6" height="12.699999999999989" fill="#f0f0f0" stroke="#666" stroke-width="0.8" />
<text x="47.3" y="276.95000000000005" font-size="4.8" text-anchor="end" font-weight="bold" font-style="normal" fill="#111"  stroke="#111" stroke-width="0.168">p-p38</text>
<rect x="51.2" y="283.1" width="64.6" height="12.699999999999989" fill="#f0f0f0" stroke="#666" stroke-width="0.8" />
<text x="47.3" y="291.95000000000005" font-size="4.8" text-anchor="end" font-weight="bold" font-style="normal" fill="#111"  stroke="#111" stroke-width="0.168">p38</text>
<rect x="51.2" y="297.2" width="64.6" height="13.800000000000011" fill="#f0f0f0" stroke="#666" stroke-width="0.8" />
<text x="47.3" y="306.6" font-size="4.8" text-anchor="end" font-weight="bold" font-style="normal" fill="#111"  stroke="#111" stroke-width="0.168">GAPDH</text>
<rect x="52.7" y="226.80" width="61.599999999999994" height="7" fill="#cfcfcf" filter="url(#bl3)" opacity="0.8"/>
<rect x="52.7" y="241.60" width="61.599999999999994" height="7" fill="#cfcfcf" filter="url(#bl3)" opacity="0.8"/>
<rect x="52.7" y="256.10" width="61.599999999999994" height="7" fill="#cfcfcf" filter="url(#bl3)" opacity="0.8"/>
<rect x="52.7" y="270.95" width="61.599999999999994" height="7" fill="#cfcfcf" filter="url(#bl3)" opacity="0.8"/>
<rect x="52.7" y="285.95" width="61.599999999999994" height="7" fill="#cfcfcf" filter="url(#bl3)" opacity="0.8"/>
<rect x="52.7" y="300.60" width="61.599999999999994" height="7" fill="#cfcfcf" filter="url(#bl3)" opacity="0.8"/>
<rect x="54.05" y="224.75" width="10.5" height="8.5" rx="3" ry="4.25" fill="#505050" filter="url(#bl2)"/>
<rect x="55.10" y="225.55" width="7" height="3.5" rx="2" ry="1.75" fill="#2a2a2a" filter="url(#bl2)"/>
<rect x="68.65" y="225.05" width="11.5" height="8.5" rx="3" ry="4.25" fill="#a4a4a4" filter="url(#bl2)"/>
<rect x="85.05" y="225.05" width="11.5" height="8.5" rx="3" ry="4.25" fill="#9c9c9c" filter="url(#bl2)"/>
<rect x="101.05" y="225.05" width="11.5" height="8.5" rx="3" ry="4.25" fill="#a8a8a8" filter="url(#bl2)"/>
<rect x="52.80" y="242.25" width="13.0" height="2.3" rx="1.15" ry="1.15" fill="#222" filter="url(#bl)"/>
<rect x="52.80" y="246.10" width="13.0" height="3.0" rx="1.5" ry="1.5" fill="#050505" filter="url(#bl)"/>
<rect x="68.50" y="242.25" width="13.0" height="2.3" rx="1.15" ry="1.15" fill="#8a8a8a" filter="url(#bl)"/>
<rect x="68.50" y="246.10" width="13.0" height="3.0" rx="1.5" ry="1.5" fill="#4a4a4a" filter="url(#bl)"/>
<rect x="83.90" y="242.25" width="13.0" height="2.3" rx="1.15" ry="1.15" fill="#505050" filter="url(#bl)"/>
<rect x="83.90" y="246.10" width="13.0" height="3.0" rx="1.5" ry="1.5" fill="#080808" filter="url(#bl)"/>
<rect x="100.40" y="242.25" width="13.0" height="2.3" rx="1.15" ry="1.15" fill="#b0b0b0" filter="url(#bl)"/>
<rect x="100.40" y="246.10" width="13.0" height="3.0" rx="1.5" ry="1.5" fill="#909090" filter="url(#bl)"/>
<rect x="52.55" y="256.15" width="13.5" height="2.7" rx="1.35" ry="1.35" fill="#0a0a0a" filter="url(#bl)"/>
<rect x="52.80" y="261.30" width="13.0" height="2.6" rx="1.3" ry="1.3" fill="#8a8a8a" filter="url(#bl)"/>
<rect x="68.25" y="256.15" width="13.5" height="2.7" rx="1.35" ry="1.35" fill="#0f0f0f" filter="url(#bl)"/>
<rect x="68.50" y="261.30" width="13.0" height="2.6" rx="1.3" ry="1.3" fill="#7a7a7a" filter="url(#bl)"/>
<rect x="83.65" y="256.15" width="13.5" height="2.7" rx="1.35" ry="1.35" fill="#0f0f0f" filter="url(#bl)"/>
<rect x="83.90" y="261.30" width="13.0" height="2.6" rx="1.3" ry="1.3" fill="#707070" filter="url(#bl)"/>
<rect x="100.15" y="256.15" width="13.5" height="2.7" rx="1.35" ry="1.35" fill="#1a1a1a" filter="url(#bl)"/>
<rect x="100.40" y="261.30" width="13.0" height="2.6" rx="1.3" ry="1.3" fill="#8a8a8a" filter="url(#bl)"/>
<rect x="53.05" y="273.15" width="12.5" height="2.7" rx="1.35" ry="1.35" fill="#0a0a0a" filter="url(#bl)"/>
<rect x="68.75" y="273.15" width="12.5" height="2.7" rx="1.35" ry="1.35" fill="#151515" filter="url(#bl)"/>
<rect x="84.15" y="273.15" width="12.5" height="2.7" rx="1.35" ry="1.35" fill="#1a1a1a" filter="url(#bl)"/>
<rect x="100.65" y="273.15" width="12.5" height="2.7" rx="1.35" ry="1.35" fill="#222" filter="url(#bl)"/>
<rect x="52.80" y="287.10" width="13.0" height="5.0" rx="2.5" ry="2.5" fill="#000" filter="url(#bl)"/>
<rect x="68.50" y="287.10" width="13.0" height="5.0" rx="2.5" ry="2.5" fill="#050505" filter="url(#bl)"/>
<rect x="83.90" y="287.10" width="13.0" height="5.0" rx="2.5" ry="2.5" fill="#050505" filter="url(#bl)"/>
<rect x="100.40" y="287.10" width="13.0" height="5.0" rx="2.5" ry="2.5" fill="#0a0a0a" filter="url(#bl)"/>
<rect x="52.05" y="301.30" width="14.5" height="6.8" rx="3.4" ry="3.4" fill="#000" filter="url(#bl)"/>
<rect x="67.75" y="301.30" width="14.5" height="6.8" rx="3.4" ry="3.4" fill="#000" filter="url(#bl)"/>
<rect x="83.15" y="301.30" width="14.5" height="6.8" rx="3.4" ry="3.4" fill="#000" filter="url(#bl)"/>
<rect x="99.65" y="301.30" width="14.5" height="6.8" rx="3.4" ry="3.4" fill="#000" filter="url(#bl)"/>
<text x="67.6" y="214.8" font-size="4.5" text-anchor="end" font-weight="bold" font-style="normal" fill="#000" transform="rotate(-45 67.6 214.8)" >N.C</text>
<text x="92.0" y="203.0" font-size="4.5" text-anchor="end" font-weight="bold" font-style="normal" fill="#000" transform="rotate(-45 92.0 203.0)" >si-CACNA1D</text>
<text x="109.0" y="203.0" font-size="4.5" text-anchor="end" font-weight="bold" font-style="normal" fill="#000" transform="rotate(-45 109.0 203.0)" >si-CACNA1F</text>
<text x="125.2" y="203.0" font-size="4.5" text-anchor="end" font-weight="bold" font-style="normal" fill="#000" transform="rotate(-45 125.2 203.0)" >si-CACNA1H</text>
<line x1="156.2" y1="220.8" x2="156.2" y2="283.8" stroke="#000" stroke-width="0.8" />
<line x1="155.0" y1="220.8" x2="156.2" y2="220.8" stroke="#000" stroke-width="0.7" />
<text x="154.7" y="222.45000000000002" font-size="4.6" text-anchor="end" font-weight="bold" font-style="normal" fill="#000"  stroke="#000" stroke-width="0.161">1.5</text>
<line x1="155.0" y1="241.8" x2="156.2" y2="241.8" stroke="#000" stroke-width="0.7" />
<text x="154.7" y="243.45000000000002" font-size="4.6" text-anchor="end" font-weight="bold" font-style="normal" fill="#000"  stroke="#000" stroke-width="0.161">1.0</text>
<line x1="155.0" y1="262.8" x2="156.2" y2="262.8" stroke="#000" stroke-width="0.7" />
<text x="154.7" y="264.45" font-size="4.6" text-anchor="end" font-weight="bold" font-style="normal" fill="#000"  stroke="#000" stroke-width="0.161">0.5</text>
<line x1="155.0" y1="283.8" x2="156.2" y2="283.8" stroke="#000" stroke-width="0.7" />
<text x="154.7" y="285.45" font-size="4.6" text-anchor="end" font-weight="bold" font-style="normal" fill="#000"  stroke="#000" stroke-width="0.161">0.0</text>
<rect x="158.5" y="241.8" width="7.0" height="42.0" fill="#f77a7a" stroke="#000" stroke-width="0.85" />
<line x1="160.9" y1="241.5" x2="163.1" y2="241.5" stroke="#000" stroke-width="0.5" />
<rect x="169.1" y="260.5" width="7.0" height="23.30000000000001" fill="#f8f48e" stroke="#000" stroke-width="0.85" />
<line x1="171.5" y1="260.2" x2="173.7" y2="260.2" stroke="#000" stroke-width="0.5" />
<text x="172.6" y="259.90000000000003" font-size="4.8" text-anchor="middle" font-weight="bold" font-style="normal" fill="#000"  stroke="#000" stroke-width="0.168">***</text>
<rect x="179.39999999999998" y="261.3" width="7.0" height="22.5" fill="#1ae8a0" stroke="#000" stroke-width="0.85" />
<line x1="181.79999999999998" y1="261.0" x2="183.99999999999997" y2="261.0" stroke="#000" stroke-width="0.5" />
<text x="182.89999999999998" y="260.7" font-size="4.8" text-anchor="middle" font-weight="bold" font-style="normal" fill="#000"  stroke="#000" stroke-width="0.168">***</text>
<rect x="189.39999999999998" y="262.4" width="7.0" height="21.400000000000034" fill="#1896f2" stroke="#000" stroke-width="0.85" />
<line x1="191.79999999999998" y1="262.09999999999997" x2="193.99999999999997" y2="262.09999999999997" stroke="#000" stroke-width="0.5" />
<text x="192.89999999999998" y="261.7" font-size="4.8" text-anchor="middle" font-weight="bold" font-style="normal" fill="#000"  stroke="#000" stroke-width="0.168">***</text>
<line x1="156.2" y1="283.8" x2="197.59999999999997" y2="283.8" stroke="#000" stroke-width="0.9" />
<text x="136.65" y="251.8" font-size="6.2" text-anchor="middle" font-weight="bold" font-style="normal" fill="#000" transform="rotate(-90 136.65 251.8)"  stroke="#000" stroke-width="0.217">Relative expression</text>
<text x="142.75" y="249.9" font-size="6.2" text-anchor="middle" font-weight="bold" font-style="normal" fill="#000" transform="rotate(-90 142.75 249.9)"  stroke="#000" stroke-width="0.217">OCT 3/4</text>
<text x="163.5" y="290.6" font-size="5.1" text-anchor="end" font-weight="bold" font-style="normal" fill="#000" transform="rotate(-45 163.5 290.6)"  stroke="#000" stroke-width="0.178">N.C</text>
<text x="174.1" y="290.6" font-size="5.1" text-anchor="end" font-weight="bold" font-style="normal" fill="#000" transform="rotate(-45 174.1 290.6)"  stroke="#000" stroke-width="0.178">si-CACNA1D</text>
<text x="184.39999999999998" y="290.6" font-size="5.1" text-anchor="end" font-weight="bold" font-style="normal" fill="#000" transform="rotate(-45 184.39999999999998 290.6)"  stroke="#000" stroke-width="0.178">si-CACNA1F</text>
<text x="194.39999999999998" y="290.6" font-size="5.1" text-anchor="end" font-weight="bold" font-style="normal" fill="#000" transform="rotate(-45 194.39999999999998 290.6)"  stroke="#000" stroke-width="0.178">si-CACNA1H</text>
<line x1="232.6" y1="220.8" x2="232.6" y2="283.8" stroke="#000" stroke-width="0.8" />
<line x1="231.4" y1="220.8" x2="232.6" y2="220.8" stroke="#000" stroke-width="0.7" />
<text x="231.1" y="222.45000000000002" font-size="4.6" text-anchor="end" font-weight="bold" font-style="normal" fill="#000"  stroke="#000" stroke-width="0.161">1.5</text>
<line x1="231.4" y1="241.8" x2="232.6" y2="241.8" stroke="#000" stroke-width="0.7" />
<text x="231.1" y="243.45000000000002" font-size="4.6" text-anchor="end" font-weight="bold" font-style="normal" fill="#000"  stroke="#000" stroke-width="0.161">1.0</text>
<line x1="231.4" y1="262.8" x2="232.6" y2="262.8" stroke="#000" stroke-width="0.7" />
<text x="231.1" y="264.45" font-size="4.6" text-anchor="end" font-weight="bold" font-style="normal" fill="#000"  stroke="#000" stroke-width="0.161">0.5</text>
<line x1="231.4" y1="283.8" x2="232.6" y2="283.8" stroke="#000" stroke-width="0.7" />
<text x="231.1" y="285.45" font-size="4.6" text-anchor="end" font-weight="bold" font-style="normal" fill="#000"  stroke="#000" stroke-width="0.161">0.0</text>
<rect x="234.9" y="241.8" width="7.0" height="42.0" fill="#f77a7a" stroke="#000" stroke-width="0.85" />
<line x1="237.3" y1="241.5" x2="239.5" y2="241.5" stroke="#000" stroke-width="0.5" />
<rect x="245.5" y="257.9" width="7.0" height="25.900000000000034" fill="#f8f48e" stroke="#000" stroke-width="0.85" />
<line x1="247.9" y1="257.59999999999997" x2="250.1" y2="257.59999999999997" stroke="#000" stroke-width="0.5" />
<text x="249.0" y="256.9" font-size="4.8" text-anchor="middle" font-weight="bold" font-style="normal" fill="#000"  stroke="#000" stroke-width="0.168">**</text>
<rect x="255.79999999999998" y="252.2" width="7.0" height="31.600000000000023" fill="#1ae8a0" stroke="#000" stroke-width="0.85" />
<line x1="258.19999999999993" y1="251.89999999999998" x2="260.4" y2="251.89999999999998" stroke="#000" stroke-width="0.5" />
<text x="259.29999999999995" y="251.3" font-size="4.8" text-anchor="middle" font-weight="bold" font-style="normal" fill="#000"  stroke="#000" stroke-width="0.168">**</text>
<rect x="265.8" y="273.0" width="7.0" height="10.800000000000011" fill="#1896f2" stroke="#000" stroke-width="0.85" />
<line x1="268.2" y1="272.7" x2="270.40000000000003" y2="272.7" stroke="#000" stroke-width="0.5" />
<text x="269.3" y="272.5" font-size="4.8" text-anchor="middle" font-weight="bold" font-style="normal" fill="#000"  stroke="#000" stroke-width="0.168">***</text>
<line x1="232.6" y1="283.8" x2="274.0" y2="283.8" stroke="#000" stroke-width="0.9" />
<text x="212.95000000000002" y="251.8" font-size="6.2" text-anchor="middle" font-weight="bold" font-style="normal" fill="#000" transform="rotate(-90 212.95000000000002 251.8)"  stroke="#000" stroke-width="0.217">Relative expression</text>
<text x="220.35" y="249.9" font-size="6.2" text-anchor="middle" font-weight="bold" font-style="normal" fill="#000" transform="rotate(-90 220.35 249.9)"  stroke="#000" stroke-width="0.217">pERK</text>
<text x="239.9" y="290.6" font-size="5.1" text-anchor="end" font-weight="bold" font-style="normal" fill="#000" transform="rotate(-45 239.9 290.6)"  stroke="#000" stroke-width="0.178">N.C</text>
<text x="250.5" y="290.6" font-size="5.1" text-anchor="end" font-weight="bold" font-style="normal" fill="#000" transform="rotate(-45 250.5 290.6)"  stroke="#000" stroke-width="0.178">si-CACNA1D</text>
<text x="260.79999999999995" y="290.6" font-size="5.1" text-anchor="end" font-weight="bold" font-style="normal" fill="#000" transform="rotate(-45 260.79999999999995 290.6)"  stroke="#000" stroke-width="0.178">si-CACNA1F</text>
<text x="270.8" y="290.6" font-size="5.1" text-anchor="end" font-weight="bold" font-style="normal" fill="#000" transform="rotate(-45 270.8 290.6)"  stroke="#000" stroke-width="0.178">si-CACNA1H</text>
<line x1="309.1" y1="220.8" x2="309.1" y2="283.8" stroke="#000" stroke-width="0.8" />
<line x1="307.90000000000003" y1="220.8" x2="309.1" y2="220.8" stroke="#000" stroke-width="0.7" />
<text x="307.6" y="222.45000000000002" font-size="4.6" text-anchor="end" font-weight="bold" font-style="normal" fill="#000"  stroke="#000" stroke-width="0.161">1.5</text>
<line x1="307.90000000000003" y1="241.8" x2="309.1" y2="241.8" stroke="#000" stroke-width="0.7" />
<text x="307.6" y="243.45000000000002" font-size="4.6" text-anchor="end" font-weight="bold" font-style="normal" fill="#000"  stroke="#000" stroke-width="0.161">1.0</text>
<line x1="307.90000000000003" y1="262.8" x2="309.1" y2="262.8" stroke="#000" stroke-width="0.7" />
<text x="307.6" y="264.45" font-size="4.6" text-anchor="end" font-weight="bold" font-style="normal" fill="#000"  stroke="#000" stroke-width="0.161">0.5</text>
<line x1="307.90000000000003" y1="283.8" x2="309.1" y2="283.8" stroke="#000" stroke-width="0.7" />
<text x="307.6" y="285.45" font-size="4.6" text-anchor="end" font-weight="bold" font-style="normal" fill="#000"  stroke="#000" stroke-width="0.161">0.0</text>
<rect x="311.40000000000003" y="241.8" width="7.0" height="42.0" fill="#f77a7a" stroke="#000" stroke-width="0.85" />
<line x1="313.8" y1="241.5" x2="316.00000000000006" y2="241.5" stroke="#000" stroke-width="0.5" />
<rect x="322.0" y="247.0" width="7.0" height="36.80000000000001" fill="#f8f48e" stroke="#000" stroke-width="0.85" />
<line x1="324.4" y1="246.7" x2="326.6" y2="246.7" stroke="#000" stroke-width="0.5" />
<rect x="332.3" y="251.8" width="7.0" height="32.0" fill="#1ae8a0" stroke="#000" stroke-width="0.85" />
<line x1="334.7" y1="251.5" x2="336.90000000000003" y2="251.5" stroke="#000" stroke-width="0.5" />
<rect x="342.3" y="252.2" width="7.0" height="31.600000000000023" fill="#1896f2" stroke="#000" stroke-width="0.85" />
<line x1="344.7" y1="251.89999999999998" x2="346.90000000000003" y2="251.89999999999998" stroke="#000" stroke-width="0.5" />
<line x1="309.1" y1="283.8" x2="350.5" y2="283.8" stroke="#000" stroke-width="0.9" />
<text x="289.95" y="251.8" font-size="6.2" text-anchor="middle" font-weight="bold" font-style="normal" fill="#000" transform="rotate(-90 289.95 251.8)"  stroke="#000" stroke-width="0.217">Relative expression</text>
<text x="297.75" y="249.9" font-size="6.2" text-anchor="middle" font-weight="bold" font-style="normal" fill="#000" transform="rotate(-90 297.75 249.9)"  stroke="#000" stroke-width="0.217">p-p38</text>
<text x="316.40000000000003" y="290.6" font-size="5.1" text-anchor="end" font-weight="bold" font-style="normal" fill="#000" transform="rotate(-45 316.40000000000003 290.6)"  stroke="#000" stroke-width="0.178">N.C</text>
<text x="327.0" y="290.6" font-size="5.1" text-anchor="end" font-weight="bold" font-style="normal" fill="#000" transform="rotate(-45 327.0 290.6)"  stroke="#000" stroke-width="0.178">si-CACNA1D</text>
<text x="337.3" y="290.6" font-size="5.1" text-anchor="end" font-weight="bold" font-style="normal" fill="#000" transform="rotate(-45 337.3 290.6)"  stroke="#000" stroke-width="0.178">si-CACNA1F</text>
<text x="347.3" y="290.6" font-size="5.1" text-anchor="end" font-weight="bold" font-style="normal" fill="#000" transform="rotate(-45 347.3 290.6)"  stroke="#000" stroke-width="0.178">si-CACNA1H</text>
<line x1="409.5" y1="26.9" x2="409.5" y2="79.5" stroke="#777" stroke-width="0.9" />
<line x1="408.3" y1="31.8" x2="409.5" y2="31.8" stroke="#000" stroke-width="0.6" />
<text x="408.0" y="32.8" font-size="3.9" text-anchor="end" font-weight="normal" font-style="normal" fill="#111" >100</text>
<line x1="408.3" y1="55.65" x2="409.5" y2="55.65" stroke="#000" stroke-width="0.6" />
<text x="408.0" y="56.65" font-size="3.9" text-anchor="end" font-weight="normal" font-style="normal" fill="#111" >50</text>
<line x1="408.3" y1="79.5" x2="409.5" y2="79.5" stroke="#000" stroke-width="0.6" />
<text x="408.0" y="80.5" font-size="3.9" text-anchor="end" font-weight="normal" font-style="normal" fill="#111" >0</text>
<line x1="409.5" y1="79.5" x2="488.0" y2="79.5" stroke="#000" stroke-width="0.9" />
<line x1="409.6" y1="79.5" x2="409.6" y2="80.7" stroke="#000" stroke-width="0.6" />
<text x="409.6" y="85.60000000000001" font-size="3.9" text-anchor="middle" font-weight="normal" font-style="normal" fill="#111" >0</text>
<line x1="429.2" y1="79.5" x2="429.2" y2="80.7" stroke="#000" stroke-width="0.6" />
<text x="429.2" y="85.60000000000001" font-size="3.9" text-anchor="middle" font-weight="normal" font-style="normal" fill="#111" >2000</text>
<line x1="448.8" y1="79.5" x2="448.8" y2="80.7" stroke="#000" stroke-width="0.6" />
<text x="448.8" y="85.60000000000001" font-size="3.9" text-anchor="middle" font-weight="normal" font-style="normal" fill="#111" >4000</text>
<line x1="468.4" y1="79.5" x2="468.4" y2="80.7" stroke="#000" stroke-width="0.6" />
<text x="468.4" y="85.60000000000001" font-size="3.9" text-anchor="middle" font-weight="normal" font-style="normal" fill="#111" >6000</text>
<line x1="488.0" y1="79.5" x2="488.0" y2="80.7" stroke="#000" stroke-width="0.6" />
<text x="488.0" y="85.60000000000001" font-size="3.9" text-anchor="middle" font-weight="normal" font-style="normal" fill="#111" >8000</text>
<polyline points="409.50,31.80 410.80,31.80 410.80,36.83 412.10,36.83 412.10,40.02 413.40,40.02 413.40,44.19 414.70,44.19 414.70,50.78 416.00,50.78 416.00,54.52 417.30,54.52 417.30,58.03 418.60,58.03 418.60,60.76 419.90,60.76 419.90,63.49 421.20,63.49 421.20,64.66 422.50,64.66 422.50,65.70 423.80,65.70 423.80,66.74 425.10,66.74 425.10,67.78 426.40,67.78 426.40,68.82 427.70,68.82 427.70,69.86 429.00,69.86 429.00,70.90 430.30,70.90 430.30,71.81 431.60,71.81 431.60,72.27 432.90,72.27 432.90,72.74 434.20,72.74 434.20,73.20 435.50,73.20 435.50,73.66 436.80,73.66 436.80,74.13 438.10,74.13 438.10,74.45 439.40,74.45 439.40,74.75 440.70,74.75 440.70,75.05 442.00,75.05 442.00,75.34 443.30,75.34 443.30,75.64 444.60,75.64 444.60,75.82 445.90,75.82 445.90,75.85 447.20,75.85 447.20,75.89 448.50,75.89 448.50,75.93 449.80,75.93 449.80,75.97 451.10,75.97 451.10,76.08 452.40,76.08 452.40,76.80 453.70,76.80 453.70,76.80 455.00,76.80 455.00,76.80 456.30,76.80 456.30,76.80 457.60,76.80 457.60,76.80 458.40,76.80 458.40,76.80" fill="none" stroke="#e8474c" stroke-width="0.9" />
<polyline points="409.50,31.80 410.80,31.80 410.80,33.92 412.10,33.92 412.10,37.74 413.40,37.74 413.40,39.49 414.70,39.49 414.70,41.88 416.00,41.88 416.00,44.80 417.30,44.80 417.30,47.14 418.60,47.14 418.60,49.42 419.90,49.42 419.90,51.63 421.20,51.63 421.20,53.80 422.50,53.80 422.50,55.75 423.80,55.75 423.80,57.70 425.10,57.70 425.10,59.24 426.40,59.24 426.40,60.70 427.70,60.70 427.70,62.16 429.00,62.16 429.00,63.30 430.30,63.30 430.30,64.27 431.60,64.27 431.60,65.01 432.90,65.01 432.90,65.74 434.20,65.74 434.20,66.16 435.50,66.16 435.50,66.55 436.80,66.55 436.80,67.02 438.10,67.02 438.10,67.59 439.40,67.59 439.40,68.69 440.70,68.69 440.70,69.20 442.00,69.20 442.00,69.20 443.30,69.20 443.30,69.20 444.60,69.20 444.60,69.20 445.90,69.20 445.90,69.20 447.20,69.20 447.20,69.20 448.50,69.20 448.50,69.20 449.80,69.20 449.80,72.00 451.10,72.00 451.10,72.00 452.40,72.00 452.40,72.00 453.70,72.00 453.70,72.00 455.00,72.00 455.00,72.00 456.30,72.00 456.30,72.00 457.60,72.00 457.60,72.00 458.90,72.00 458.90,72.00 460.20,72.00 460.20,72.00 461.50,72.00 461.50,72.00 462.80,72.00 462.80,72.00 464.10,72.00 464.10,72.00 465.40,72.00 465.40,72.00 466.70,72.00 466.70,72.00 468.00,72.00 468.00,72.00 469.30,72.00 469.30,72.00 470.40,72.00 470.40,72.00" fill="none" stroke="#1fba3c" stroke-width="1.05" />
<line x1="444" y1="75.0" x2="444" y2="76.6" stroke="#333" stroke-width="0.45" />
<line x1="448" y1="75.0" x2="448" y2="76.6" stroke="#333" stroke-width="0.45" />
<line x1="453" y1="76.0" x2="453" y2="77.6" stroke="#333" stroke-width="0.45" />
<line x1="456" y1="76.0" x2="456" y2="77.6" stroke="#333" stroke-width="0.45" />
<line x1="441" y1="68.4" x2="441" y2="70.0" stroke="#333" stroke-width="0.45" />
<line x1="444" y1="68.4" x2="444" y2="70.0" stroke="#333" stroke-width="0.45" />
<line x1="447" y1="68.4" x2="447" y2="70.0" stroke="#333" stroke-width="0.45" />
<line x1="452" y1="71.2" x2="452" y2="72.8" stroke="#333" stroke-width="0.45" />
<line x1="455" y1="71.2" x2="455" y2="72.8" stroke="#333" stroke-width="0.45" />
<line x1="459" y1="71.2" x2="459" y2="72.8" stroke="#333" stroke-width="0.45" />
<line x1="463" y1="71.2" x2="463" y2="72.8" stroke="#333" stroke-width="0.45" />
<text x="422.0" y="20.65" font-size="4.95" text-anchor="start" font-weight="bold" font-style="normal" fill="#111"  stroke="#111" stroke-width="0.173">CACNA1D (GSE53963)</text>
<line x1="463.4" y1="28.6" x2="468.0" y2="28.6" stroke="#1fba3c" stroke-width="0.8" />
<line x1="463.4" y1="34.7" x2="468.0" y2="34.7" stroke="#e8474c" stroke-width="0.8" />
<text x="0" y="0" transform="translate(471.8 30.35) scale(0.87 1)" font-size="4.9" text-anchor="start" font-weight="normal" font-style="normal" fill="#333" >LowGroup</text>
<text x="0" y="0" transform="translate(471.8 36.45) scale(0.87 1)" font-size="4.9" text-anchor="start" font-weight="normal" font-style="normal" fill="#333" >HighGroup</text>
<line x1="465.9" y1="27.8" x2="465.9" y2="29.400000000000002" stroke="#333" stroke-width="0.5" />
<line x1="465.9" y1="33.9" x2="465.9" y2="35.5" stroke="#555" stroke-width="0.5" />
<text x="499.2" y="74.8" font-size="6.6" text-anchor="start" font-weight="bold" font-style="normal" fill="#e83a40" textLength="44.6" lengthAdjust="spacingAndGlyphs" stroke="#e83a40" stroke-width="0.231">p-value=0.0237</text>
<text x="448.8" y="90.89999999999999" font-size="4.5" text-anchor="middle" font-weight="bold" font-style="normal" fill="#111" >OS (days)</text>
<text x="399.05" y="53.300000000000004" font-size="4.25" text-anchor="middle" font-weight="bold" font-style="normal" fill="#111" transform="rotate(-90 399.05 53.300000000000004)" >Percent survival</text>
<line x1="410.1" y1="117.5" x2="410.1" y2="169.1" stroke="#777" stroke-width="0.9" />
<line x1="408.90000000000003" y1="122.2" x2="410.1" y2="122.2" stroke="#000" stroke-width="0.6" />
<text x="408.6" y="123.2" font-size="3.9" text-anchor="end" font-weight="normal" font-style="normal" fill="#111" >100</text>
<line x1="408.90000000000003" y1="145.65" x2="410.1" y2="145.65" stroke="#000" stroke-width="0.6" />
<text x="408.6" y="146.65" font-size="3.9" text-anchor="end" font-weight="normal" font-style="normal" fill="#111" >50</text>
<line x1="408.90000000000003" y1="169.1" x2="410.1" y2="169.1" stroke="#000" stroke-width="0.6" />
<text x="408.6" y="170.1" font-size="3.9" text-anchor="end" font-weight="normal" font-style="normal" fill="#111" >0</text>
<line x1="410.1" y1="169.1" x2="487.0" y2="169.1" stroke="#000" stroke-width="0.9" />
<line x1="410.2" y1="169.1" x2="410.2" y2="170.29999999999998" stroke="#000" stroke-width="0.6" />
<text x="410.2" y="174.79999999999998" font-size="3.9" text-anchor="middle" font-weight="normal" font-style="normal" fill="#111" >0</text>
<line x1="435.8" y1="169.1" x2="435.8" y2="170.29999999999998" stroke="#000" stroke-width="0.6" />
<text x="435.8" y="174.79999999999998" font-size="3.9" text-anchor="middle" font-weight="normal" font-style="normal" fill="#111" >2000</text>
<line x1="461.4" y1="169.1" x2="461.4" y2="170.29999999999998" stroke="#000" stroke-width="0.6" />
<text x="461.4" y="174.79999999999998" font-size="3.9" text-anchor="middle" font-weight="normal" font-style="normal" fill="#111" >4000</text>
<line x1="487.0" y1="169.1" x2="487.0" y2="170.29999999999998" stroke="#000" stroke-width="0.6" />
<text x="487.0" y="174.79999999999998" font-size="3.9" text-anchor="middle" font-weight="normal" font-style="normal" fill="#111" >6000</text>
<polyline points="410.00,122.20 411.30,122.20 411.30,123.46 412.60,123.46 412.60,124.71 413.90,124.71 413.90,128.66 415.20,128.66 415.20,133.40 416.50,133.40 416.50,136.00 417.80,136.00 417.80,137.61 419.10,137.61 419.10,138.61 420.40,138.61 420.40,139.78 421.70,139.78 421.70,141.34 423.00,141.34 423.00,147.20 424.30,147.20 424.30,148.24 425.60,148.24 425.60,148.90 426.90,148.90 426.90,149.10 428.20,149.10 428.20,149.31 429.50,149.31 429.50,149.52 430.80,149.52 430.80,149.76 432.10,149.76 432.10,150.02 433.40,150.02 433.40,150.28 434.70,150.28 434.70,150.59 436.00,150.59 436.00,150.93 437.30,150.93 437.30,151.43 438.60,151.43 438.60,152.43 439.90,152.43 439.90,153.42 441.20,153.42 441.20,154.46 442.50,154.46 442.50,155.10 443.80,155.10 443.80,155.10 445.10,155.10 445.10,155.10 446.40,155.10 446.40,155.10 447.70,155.10 447.70,155.10 449.00,155.10 449.00,155.10 450.30,155.10 450.30,155.10 451.60,155.10 451.60,155.10 452.90,155.10 452.90,155.10 454.20,155.10 454.20,155.10 455.50,155.10 455.50,155.10 456.80,155.10 456.80,155.10 458.10,155.10 458.10,155.10 459.40,155.10 459.40,155.10 460.70,155.10 460.70,155.10 462.00,155.10 462.00,162.20 463.30,162.20 463.30,162.20 464.60,162.20 464.60,162.20 465.50,162.20 465.50,162.20" fill="none" stroke="#e8474c" stroke-width="0.9" />
<polyline points="410.00,122.20 411.30,122.20 411.30,122.59 412.60,122.59 412.60,123.25 413.90,123.25 413.90,124.23 415.20,124.23 415.20,127.12 416.50,127.12 416.50,129.80 417.80,129.80 417.80,131.88 419.10,131.88 419.10,133.08 420.40,133.08 420.40,134.12 421.70,134.12 421.70,135.02 423.00,135.02 423.00,135.80 424.30,135.80 424.30,136.58 425.60,136.58 425.60,137.14 426.90,137.14 426.90,137.44 428.20,137.44 428.20,137.70 429.50,137.70 429.50,137.70 430.80,137.70 430.80,137.70 432.10,137.70 432.10,137.70 433.40,137.70 433.40,137.70 434.70,137.70 434.70,137.70 436.00,137.70 436.00,137.80 437.30,137.80 437.30,137.93 438.60,137.93 438.60,138.06 439.90,138.06 439.90,138.19 441.20,138.19 441.20,138.96 442.50,138.96 442.50,139.78 443.80,139.78 443.80,140.58 445.10,140.58 445.10,141.36 446.40,141.36 446.40,142.14 447.70,142.14 447.70,142.93 449.00,142.93 449.00,143.74 450.30,143.74 450.30,144.55 451.60,144.55 451.60,145.35 452.90,145.35 452.90,146.50 454.20,146.50 454.20,147.80 455.50,147.80 455.50,149.10 456.80,149.10 456.80,155.10 458.10,155.10 458.10,155.10 459.40,155.10 459.40,155.10 460.70,155.10 460.70,155.10 462.00,155.10 462.00,155.10 463.30,155.10 463.30,155.10 464.60,155.10 464.60,155.10 465.90,155.10 465.90,155.10 467.20,155.10 467.20,155.10 468.50,155.10 468.50,155.10 469.80,155.10 469.80,155.10 471.10,155.10 471.10,155.10 472.40,155.10 472.40,155.10 473.70,155.10 473.70,155.10 475.00,155.10 475.00,155.10 476.30,155.10 476.30,155.10 477.60,155.10 477.60,155.10 478.90,155.10 478.90,155.10 480.20,155.10 480.20,155.10 481.50,155.10 481.50,155.10 482.00,155.10 482.00,155.10" fill="none" stroke="#1fba3c" stroke-width="1.05" />
<line x1="426" y1="148.0" x2="426" y2="149.60000000000002" stroke="#333" stroke-width="0.45" />
<line x1="429" y1="148.0" x2="429" y2="149.60000000000002" stroke="#333" stroke-width="0.45" />
<line x1="432" y1="148.79999999999998" x2="432" y2="150.4" stroke="#333" stroke-width="0.45" />
<line x1="446" y1="154.29999999999998" x2="446" y2="155.9" stroke="#333" stroke-width="0.45" />
<line x1="452" y1="154.29999999999998" x2="452" y2="155.9" stroke="#333" stroke-width="0.45" />
<line x1="458" y1="154.29999999999998" x2="458" y2="155.9" stroke="#333" stroke-width="0.45" />
<line x1="430" y1="136.89999999999998" x2="430" y2="138.5" stroke="#333" stroke-width="0.45" />
<line x1="433" y1="136.89999999999998" x2="433" y2="138.5" stroke="#333" stroke-width="0.45" />
<line x1="436" y1="136.89999999999998" x2="436" y2="138.5" stroke="#333" stroke-width="0.45" />
<line x1="439" y1="136.89999999999998" x2="439" y2="138.5" stroke="#333" stroke-width="0.45" />
<line x1="450" y1="141.7" x2="450" y2="143.3" stroke="#333" stroke-width="0.45" />
<line x1="464" y1="154.29999999999998" x2="464" y2="155.9" stroke="#333" stroke-width="0.45" />
<line x1="470" y1="154.29999999999998" x2="470" y2="155.9" stroke="#333" stroke-width="0.45" />
<line x1="481" y1="154.29999999999998" x2="481" y2="155.9" stroke="#333" stroke-width="0.45" />
<text x="424.1" y="111.75" font-size="4.95" text-anchor="start" font-weight="bold" font-style="normal" fill="#111"  stroke="#111" stroke-width="0.173">CACNA1F (GSE3149)</text>
<line x1="463.4" y1="120.0" x2="468.0" y2="120.0" stroke="#1fba3c" stroke-width="0.8" />
<line x1="463.4" y1="126.1" x2="468.0" y2="126.1" stroke="#e8474c" stroke-width="0.8" />
<text x="0" y="0" transform="translate(471.8 121.75) scale(0.87 1)" font-size="4.9" text-anchor="start" font-weight="normal" font-style="normal" fill="#333" >LowGroup</text>
<text x="0" y="0" transform="translate(471.8 127.85) scale(0.87 1)" font-size="4.9" text-anchor="start" font-weight="normal" font-style="normal" fill="#333" >HighGroup</text>
<line x1="465.9" y1="119.2" x2="465.9" y2="120.8" stroke="#333" stroke-width="0.5" />
<line x1="465.9" y1="125.3" x2="465.9" y2="126.9" stroke="#555" stroke-width="0.5" />
<text x="499.2" y="164.8" font-size="6.6" text-anchor="start" font-weight="bold" font-style="normal" fill="#e83a40" textLength="44.6" lengthAdjust="spacingAndGlyphs" stroke="#e83a40" stroke-width="0.231">p-value=0.0069</text>
<text x="448.8" y="180.9" font-size="4.5" text-anchor="middle" font-weight="bold" font-style="normal" fill="#111" >OS (days)</text>
<text x="399.05" y="143.4" font-size="4.25" text-anchor="middle" font-weight="bold" font-style="normal" fill="#111" transform="rotate(-90 399.05 143.4)" >Percent survival</text>
<line x1="410.1" y1="206.5" x2="410.1" y2="258.6" stroke="#777" stroke-width="0.9" />
<line x1="408.90000000000003" y1="211.5" x2="410.1" y2="211.5" stroke="#000" stroke-width="0.6" />
<text x="408.6" y="212.5" font-size="3.9" text-anchor="end" font-weight="normal" font-style="normal" fill="#111" >100</text>
<line x1="408.90000000000003" y1="235.05" x2="410.1" y2="235.05" stroke="#000" stroke-width="0.6" />
<text x="408.6" y="236.05" font-size="3.9" text-anchor="end" font-weight="normal" font-style="normal" fill="#111" >50</text>
<line x1="408.90000000000003" y1="258.6" x2="410.1" y2="258.6" stroke="#000" stroke-width="0.6" />
<text x="408.6" y="259.6" font-size="3.9" text-anchor="end" font-weight="normal" font-style="normal" fill="#111" >0</text>
<line x1="410.1" y1="258.6" x2="487.7" y2="258.6" stroke="#000" stroke-width="0.9" />
<line x1="410.2" y1="258.6" x2="410.2" y2="259.8" stroke="#000" stroke-width="0.6" />
<text x="410.2" y="264.59999999999997" font-size="3.9" text-anchor="middle" font-weight="normal" font-style="normal" fill="#111" >0</text>
<line x1="425.7" y1="258.6" x2="425.7" y2="259.8" stroke="#000" stroke-width="0.6" />
<text x="425.7" y="264.59999999999997" font-size="3.9" text-anchor="middle" font-weight="normal" font-style="normal" fill="#111" >500</text>
<line x1="441.2" y1="258.6" x2="441.2" y2="259.8" stroke="#000" stroke-width="0.6" />
<text x="441.2" y="264.59999999999997" font-size="3.9" text-anchor="middle" font-weight="normal" font-style="normal" fill="#111" >1000</text>
<line x1="456.7" y1="258.6" x2="456.7" y2="259.8" stroke="#000" stroke-width="0.6" />
<text x="456.7" y="264.59999999999997" font-size="3.9" text-anchor="middle" font-weight="normal" font-style="normal" fill="#111" >1500</text>
<line x1="472.2" y1="258.6" x2="472.2" y2="259.8" stroke="#000" stroke-width="0.6" />
<text x="472.2" y="264.59999999999997" font-size="3.9" text-anchor="middle" font-weight="normal" font-style="normal" fill="#111" >2000</text>
<line x1="487.7" y1="258.6" x2="487.7" y2="259.8" stroke="#000" stroke-width="0.6" />
<text x="487.7" y="264.59999999999997" font-size="3.9" text-anchor="middle" font-weight="normal" font-style="normal" fill="#111" >2500</text>
<polyline points="410.10,211.50 417.40,211.50 417.40,214.00 419.60,214.00 419.60,217.70 421.00,217.70 421.00,222.00 422.50,222.00 422.50,226.50 424.50,226.50 424.50,229.00 428.50,229.00 428.50,230.60 450.30,230.60 450.30,240.00 462.00,240.00 462.00,258.50 462.00,258.50 462.00,258.50" fill="none" stroke="#e8474c" stroke-width="0.9" />
<polyline points="410.10,211.50 434.80,211.50 434.80,216.80 445.60,216.80 445.60,225.60 459.50,225.60 459.50,236.50 479.00,236.50 479.00,236.50" fill="none" stroke="#1fba3c" stroke-width="1.05" />
<line x1="419" y1="213.2" x2="419" y2="214.8" stroke="#333" stroke-width="0.45" />
<line x1="431" y1="229.79999999999998" x2="431" y2="231.4" stroke="#333" stroke-width="0.45" />
<line x1="433" y1="229.79999999999998" x2="433" y2="231.4" stroke="#333" stroke-width="0.45" />
<line x1="438" y1="229.79999999999998" x2="438" y2="231.4" stroke="#333" stroke-width="0.45" />
<line x1="456" y1="239.2" x2="456" y2="240.8" stroke="#333" stroke-width="0.45" />
<line x1="432" y1="210.7" x2="432" y2="212.3" stroke="#333" stroke-width="0.45" />
<line x1="435" y1="216.0" x2="435" y2="217.60000000000002" stroke="#333" stroke-width="0.45" />
<line x1="447" y1="224.79999999999998" x2="447" y2="226.4" stroke="#333" stroke-width="0.45" />
<line x1="449" y1="224.79999999999998" x2="449" y2="226.4" stroke="#333" stroke-width="0.45" />
<line x1="452" y1="224.79999999999998" x2="452" y2="226.4" stroke="#333" stroke-width="0.45" />
<line x1="467" y1="235.7" x2="467" y2="237.3" stroke="#333" stroke-width="0.45" />
<text x="422.9" y="200.55" font-size="4.95" text-anchor="start" font-weight="bold" font-style="normal" fill="#111"  stroke="#111" stroke-width="0.173">CACNA1H (GSE14764)</text>
<line x1="463.4" y1="208.2" x2="468.0" y2="208.2" stroke="#1fba3c" stroke-width="0.8" />
<line x1="463.4" y1="214.29999999999998" x2="468.0" y2="214.29999999999998" stroke="#e8474c" stroke-width="0.8" />
<text x="0" y="0" transform="translate(471.8 209.95) scale(0.87 1)" font-size="4.9" text-anchor="start" font-weight="normal" font-style="normal" fill="#333" >LowGroup</text>
<text x="0" y="0" transform="translate(471.8 216.04999999999998) scale(0.87 1)" font-size="4.9" text-anchor="start" font-weight="normal" font-style="normal" fill="#333" >HighGroup</text>
<line x1="465.9" y1="207.39999999999998" x2="465.9" y2="209.0" stroke="#333" stroke-width="0.5" />
<line x1="465.9" y1="213.5" x2="465.9" y2="215.1" stroke="#555" stroke-width="0.5" />
<text x="499.2" y="253.8" font-size="6.6" text-anchor="start" font-weight="bold" font-style="normal" fill="#e83a40" textLength="44.6" lengthAdjust="spacingAndGlyphs" stroke="#e83a40" stroke-width="0.231">p-value=0.0224</text>
<text x="448.8" y="270.70000000000005" font-size="4.5" text-anchor="middle" font-weight="bold" font-style="normal" fill="#111" >OS (days)</text>
<text x="399.05" y="232.65" font-size="4.25" text-anchor="middle" font-weight="bold" font-style="normal" fill="#111" transform="rotate(-90 399.05 232.65)" >Percent survival</text>
</svg></body></html>
